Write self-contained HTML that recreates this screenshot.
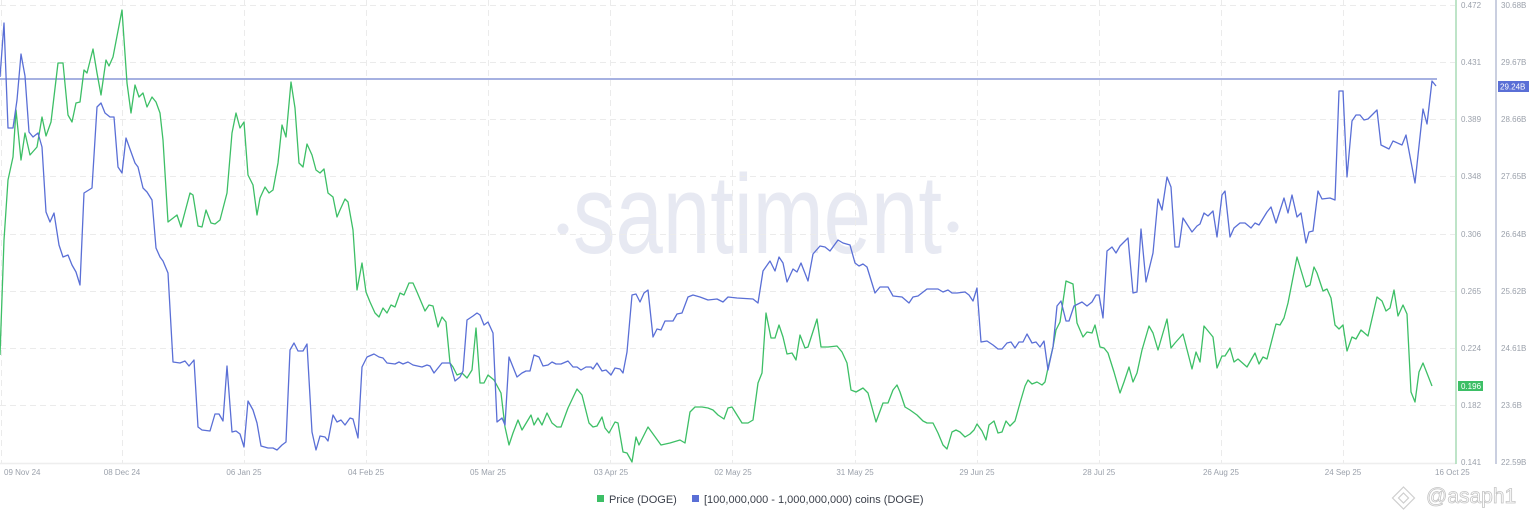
<!DOCTYPE html>
<html>
<head>
<meta charset="utf-8">
<style>
  html,body{margin:0;padding:0;background:#fff;}
  body{width:1536px;height:520px;overflow:hidden;}
  svg{display:block;}
  text{font-family:"Liberation Sans",sans-serif;}
</style>
</head>
<body>
<svg width="1536" height="520" viewBox="0 0 1536 520" xmlns="http://www.w3.org/2000/svg">
  <rect width="1536" height="520" fill="#ffffff"/>

  <!-- watermark -->
  <g fill="#e7e9f2">
    <circle cx="563" cy="229" r="5.5"/>
    <circle cx="953" cy="227" r="5.5"/>
    <text x="573" y="253" font-size="112" textLength="369" lengthAdjust="spacingAndGlyphs">santiment</text>
  </g>

  <!-- horizontal grid -->
  <g stroke="#ebebeb" stroke-width="1" stroke-dasharray="6 4">
    <line x1="0" y1="5.5" x2="1455" y2="5.5"/>
    <line x1="0" y1="62.5" x2="1455" y2="62.5"/>
    <line x1="0" y1="119.5" x2="1455" y2="119.5"/>
    <line x1="0" y1="176.5" x2="1455" y2="176.5"/>
    <line x1="0" y1="234.5" x2="1455" y2="234.5"/>
    <line x1="0" y1="291.5" x2="1455" y2="291.5"/>
    <line x1="0" y1="348.5" x2="1455" y2="348.5"/>
    <line x1="0" y1="405.5" x2="1455" y2="405.5"/>
  </g>
  <!-- vertical grid -->
  <g stroke="#ebebeb" stroke-width="1" stroke-dasharray="6 4">
    <line x1="1.5" y1="0" x2="1.5" y2="463"/>
    <line x1="122.5" y1="0" x2="122.5" y2="463"/>
    <line x1="244.5" y1="0" x2="244.5" y2="463"/>
    <line x1="366.5" y1="0" x2="366.5" y2="463"/>
    <line x1="488.5" y1="0" x2="488.5" y2="463"/>
    <line x1="610.5" y1="0" x2="610.5" y2="463"/>
    <line x1="732.5" y1="0" x2="732.5" y2="463"/>
    <line x1="855.5" y1="0" x2="855.5" y2="463"/>
    <line x1="977.5" y1="0" x2="977.5" y2="463"/>
    <line x1="1099.5" y1="0" x2="1099.5" y2="463"/>
    <line x1="1221.5" y1="0" x2="1221.5" y2="463"/>
    <line x1="1343.5" y1="0" x2="1343.5" y2="463"/>
  </g>
  <!-- bottom axis -->
  <line x1="0" y1="463.5" x2="1456" y2="463.5" stroke="#eeeeee" stroke-width="1.5"/>

  <!-- right axes -->
  <line x1="1456" y1="0" x2="1456" y2="464" stroke="#a9dcb6" stroke-width="1.5"/>
  <line x1="1496" y1="0" x2="1496" y2="464" stroke="#b9bfd6" stroke-width="1.5"/>

  <!-- horizontal reference line -->
  <line x1="0" y1="79" x2="1437" y2="79" stroke="#7282cf" stroke-width="1.3"/>

  <!-- price series -->
  <polyline fill="none" stroke="#3dbf66" stroke-width="1.3" stroke-linejoin="round" points="0,355 4,240 8,180 13,157 16,110 21,160 25,133 30,155 37,147 42,117 46,136 51,122 58,63 63,63 68,115 72,122 76,103 80,102 84,70 87,73 93,49 97,73 101,95 106,60 109,66 113,57 122,10 127,83 131,113 135,85 139,97 143,93 147,107 152,97 156,102 160,113 163,140 168,222 177,215 181,227 190,193 193,195 198,226 202,227 206,210 211,223 215,224 220,220 227,193 232,133 236,113 240,128 244,122 248,175 253,185 257,215 260,198 265,187 269,193 273,190 278,163 282,125 286,137 291,82 295,108 299,163 303,167 307,144 312,155 316,170 320,173 324,169 328,193 333,197 337,217 340,210 345,199 348,202 353,230 357,290 362,263 366,292 370,302 375,313 379,317 383,308 387,313 391,305 395,307 400,293 404,295 409,283 413,283 417,292 425,311 429,305 433,306 438,327 442,317 446,322 450,363 453,367 457,375 462,373 467,378 472,370 476,328 480,383 484,383 488,375 494,380 501,393 505,427 509,445 513,433 518,420 522,430 531,415 534,425 538,418 542,425 547,413 552,423 557,427 561,427 568,408 577,389 582,395 589,423 593,427 597,426 602,417 605,428 609,433 615,422 618,423 623,452 627,453 632,462 636,437 639,445 648,427 661,445 670,443 680,440 685,443 690,412 695,407 702,407 708,408 713,410 718,415 724,419 728,408 732,407 737,415 742,423 748,423 753,420 758,383 762,373 766,313 771,338 775,338 779,325 783,337 787,354 792,353 796,360 800,335 805,348 808,347 817,319 821,347 828,347 837,346 842,352 847,363 851,390 856,392 863,388 868,393 876,422 883,403 888,403 893,390 897,385 900,392 905,407 910,410 917,415 923,421 927,423 933,423 938,433 943,445 947,449 952,432 956,430 960,432 965,437 970,434 974,430 977,424 982,431 986,440 989,425 994,421 998,433 1002,432 1006,421 1010,426 1015,421 1020,403 1025,386 1028,380 1032,384 1037,382 1042,385 1045,382 1048,368 1053,347 1056,330 1060,322 1066,281 1073,284 1077,323 1083,337 1087,332 1092,333 1095,325 1100,347 1104,348 1108,353 1114,372 1120,393 1124,382 1129,367 1133,382 1137,373 1142,350 1149,326 1153,333 1158,350 1167,319 1171,348 1175,343 1183,334 1192,369 1196,352 1200,362 1204,326 1213,337 1217,368 1222,356 1225,356 1230,348 1234,362 1238,359 1247,367 1255,353 1259,364 1263,357 1267,359 1276,324 1280,325 1284,318 1288,303 1297,257 1306,287 1310,285 1314,267 1317,273 1323,291 1327,289 1331,298 1335,325 1339,329 1343,325 1347,351 1352,337 1356,339 1361,330 1368,336 1377,297 1382,301 1386,311 1390,308 1394,290 1398,316 1403,305 1407,314 1411,392 1415,402 1419,372 1423,363 1432,386"/>

  <!-- holders series -->
  <polyline fill="none" stroke="#5a6fd6" stroke-width="1.3" stroke-linejoin="round" points="0,77 4,23 8,128 13,128 17,100 21,54 25,76 29,132 33,137 38,133 42,147 46,212 50,222 54,213 59,245 63,257 68,255 72,265 76,272 80,285 84,193 92,188 97,107 101,103 105,113 110,117 114,117 118,167 122,173 126,138 135,163 138,167 143,188 147,192 152,200 156,248 160,257 163,261 168,273 173,362 180,363 185,361 189,366 194,360 198,427 202,430 210,431 215,414 219,414 223,421 227,366 232,432 236,431 240,434 244,447 248,401 253,410 257,423 261,446 268,448 273,448 277,450 282,445 286,442 290,350 294,343 298,351 303,351 307,344 312,432 316,450 320,436 325,437 328,441 333,415 337,422 341,420 345,425 350,418 353,419 358,438 362,367 367,357 374,354 379,357 383,358 387,363 395,364 399,362 403,364 408,362 413,365 422,367 427,365 430,366 434,373 442,363 450,363 455,381 460,377 463,371 467,320 473,316 477,313 480,315 484,325 488,322 493,333 497,422 502,418 505,425 509,357 517,377 522,373 526,371 530,371 534,355 539,357 543,366 548,365 552,362 556,364 561,364 568,361 573,367 577,367 581,370 586,367 591,367 593,369 597,363 602,371 606,370 611,375 615,368 620,369 623,373 627,352 632,295 636,294 640,302 644,293 648,290 653,337 657,329 661,330 665,321 673,321 677,314 682,313 688,297 693,295 700,297 708,300 717,299 723,302 728,297 737,298 753,299 758,303 763,271 770,261 775,271 779,257 783,263 787,282 793,269 797,272 801,263 808,281 813,254 820,246 825,247 830,251 838,240 843,243 850,245 855,263 859,266 863,264 867,267 875,293 880,287 888,287 893,296 902,297 909,303 913,297 918,296 927,289 938,289 943,292 948,290 952,293 957,293 965,292 969,295 973,301 977,288 981,342 987,341 993,345 998,349 1002,349 1007,343 1011,342 1015,348 1019,342 1023,342 1027,334 1032,343 1036,342 1040,347 1044,341 1048,370 1053,347 1057,306 1061,301 1066,321 1069,321 1074,306 1082,302 1087,306 1092,302 1096,295 1099,295 1103,318 1107,251 1112,247 1116,253 1120,246 1128,238 1133,293 1137,292 1141,229 1146,282 1153,253 1158,199 1162,210 1167,177 1171,187 1175,247 1179,247 1183,218 1192,232 1197,226 1200,224 1204,213 1208,216 1213,211 1217,237 1222,195 1225,191 1230,237 1234,228 1240,223 1245,223 1251,228 1255,223 1259,225 1267,212 1271,207 1276,223 1284,198 1288,213 1292,195 1297,217 1301,213 1306,243 1309,232 1313,231 1318,191 1322,199 1330,198 1335,200 1339,91 1343,91 1347,177 1352,121 1356,115 1360,115 1364,120 1368,119 1377,110 1381,145 1385,147 1389,149 1393,141 1402,145 1406,135 1415,183 1423,109 1427,124 1432,81 1436,86"/>

  <!-- price axis labels -->
  <g font-size="8" fill="#9ba1ab">
    <text x="1461" y="8">0.472</text>
    <text x="1461" y="65">0.431</text>
    <text x="1461" y="122">0.389</text>
    <text x="1461" y="179">0.348</text>
    <text x="1461" y="237">0.306</text>
    <text x="1461" y="294">0.265</text>
    <text x="1461" y="351">0.224</text>
    <text x="1461" y="408">0.182</text>
    <text x="1461" y="465">0.141</text>
  </g>
  <!-- holders axis labels -->
  <g font-size="8" fill="#9ba1ab">
    <text x="1501" y="8">30.68B</text>
    <text x="1501" y="65">29.67B</text>
    <text x="1501" y="122">28.66B</text>
    <text x="1501" y="179">27.65B</text>
    <text x="1501" y="237">26.64B</text>
    <text x="1501" y="294">25.62B</text>
    <text x="1501" y="351">24.61B</text>
    <text x="1501" y="408">23.6B</text>
    <text x="1501" y="465">22.59B</text>
  </g>

  <!-- current value tags -->
  <rect x="1498" y="81" width="31" height="11" fill="#5a6fd6"/>
  <text x="1500" y="89.5" font-size="8" fill="#ffffff">29.24B</text>
  <rect x="1458" y="381" width="25" height="10" fill="#3dbf66"/>
  <text x="1461" y="389" font-size="8" fill="#ffffff">0.196</text>

  <!-- x axis labels -->
  <g font-size="8" fill="#9ba1ab">
    <text x="4" y="475">09 Nov 24</text>
    <text x="122" y="475" text-anchor="middle">08 Dec 24</text>
    <text x="244" y="475" text-anchor="middle">06 Jan 25</text>
    <text x="366" y="475" text-anchor="middle">04 Feb 25</text>
    <text x="488" y="475" text-anchor="middle">05 Mar 25</text>
    <text x="611" y="475" text-anchor="middle">03 Apr 25</text>
    <text x="733" y="475" text-anchor="middle">02 May 25</text>
    <text x="855" y="475" text-anchor="middle">31 May 25</text>
    <text x="977" y="475" text-anchor="middle">29 Jun 25</text>
    <text x="1099" y="475" text-anchor="middle">28 Jul 25</text>
    <text x="1221" y="475" text-anchor="middle">26 Aug 25</text>
    <text x="1343" y="475" text-anchor="middle">24 Sep 25</text>
    <text x="1435" y="475">16 Oct 25</text>
  </g>

  <!-- legend -->
  <rect x="597" y="495" width="7" height="7" fill="#3dbf66"/>
  <text x="609" y="503" font-size="11" fill="#3a3f4a">Price (DOGE)</text>
  <rect x="692" y="495" width="7" height="7" fill="#5a6fd6"/>
  <text x="704" y="503" font-size="11" fill="#3a3f4a">[100,000,000 - 1,000,000,000) coins (DOGE)</text>

  <!-- bottom-right watermark -->
  <g fill="none" stroke="#cfcfcf" stroke-width="1.2">
    <path d="M1403.5 487 L1414.5 498 L1403.5 509 L1392.5 498 Z"/>
    <path d="M1403.5 493 L1408.5 498 L1403.5 503 L1398.5 498 Z"/>
  </g>
  <text x="1426" y="503" font-size="21" fill="#ffffff" stroke="#c4c4c4" stroke-width="0.8">@asaph1</text>
</svg>
</body>
</html>
